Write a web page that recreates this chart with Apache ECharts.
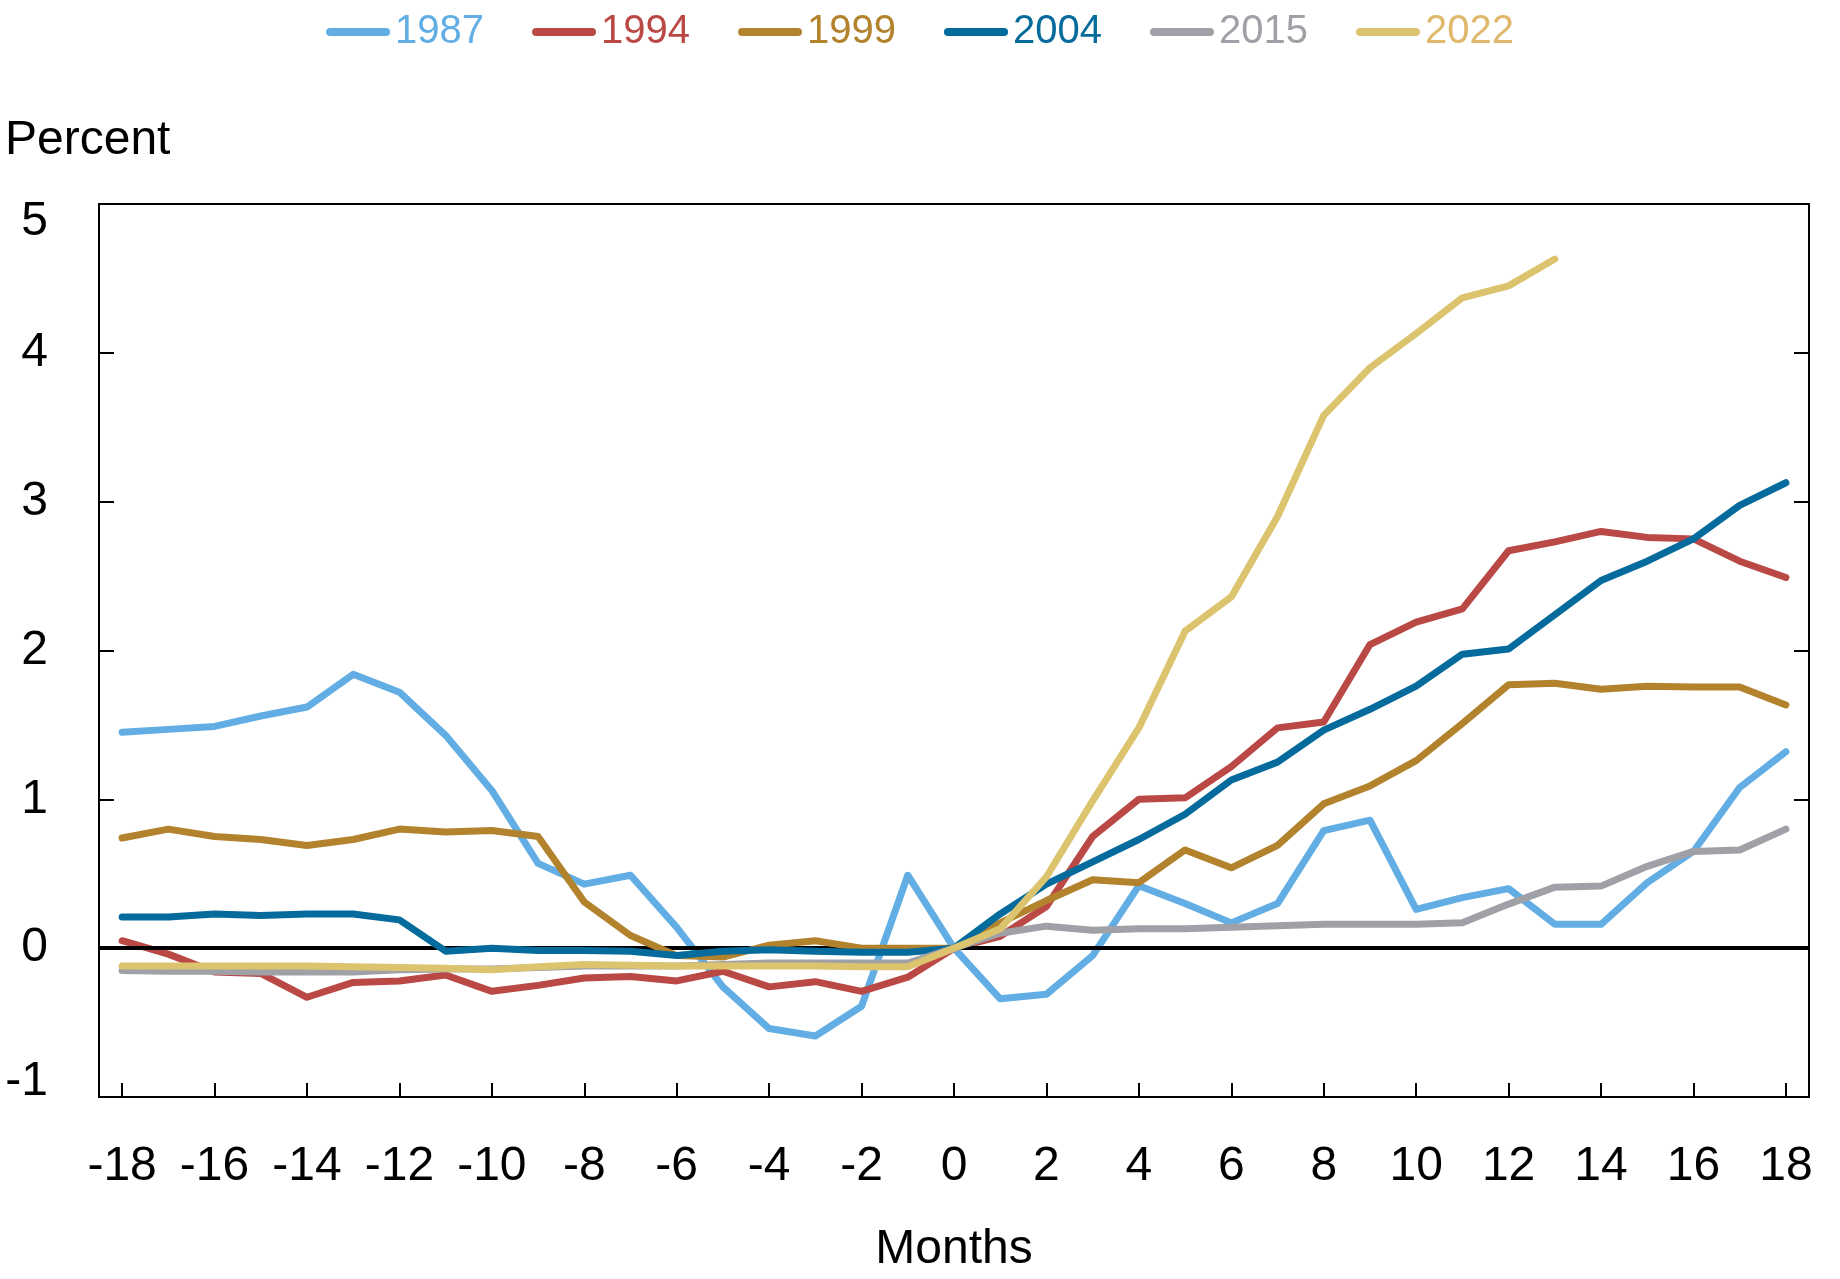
<!DOCTYPE html>
<html>
<head>
<meta charset="utf-8">
<script src="https://cdn.jsdelivr.net/npm/echarts@6/dist/echarts.min.js"></script>
<style>html,body{margin:0;padding:0;background:#fff;}#chart{width:1840px;height:1279px;}</style>
</head>
<body>
<div id="chart"></div>
<script>
const months = [-18,-17,-16,-15,-14,-13,-12,-11,-10,-9,-8,-7,-6,-5,-4,-3,-2,-1,0,1,2,3,4,5,6,7,8,9,10,11,12,13,14,15,16,17,18];
const yTicks = [-1,0,1,2,3,4,5];
const seriesNames = ['1987','1994','1999','2004','2015','2022'];
const seriesColors = ['#62AEE4','#BA4946','#B3822D','#056B9C','#A0A1A7','#DCC46F'];
const legendColors = ['#62AEE4','#BA4946','#B3822D','#056B9C','#A0A1A7','#DFB86C'];

const s1987 = [1.45,1.47,1.49,1.56,1.62,1.84,1.72,1.43,1.06,0.57,0.43,0.49,0.14,-0.26,-0.54,-0.59,-0.39,0.49,0,-0.34,-0.31,-0.05,0.42,0.30,0.17,0.30,0.79,0.86,0.26,0.34,0.40,0.16,0.16,0.44,0.65,1.08,1.32];
const s1994 = [0.05,-0.04,-0.16,-0.17,-0.33,-0.23,-0.22,-0.18,-0.29,-0.25,-0.20,-0.19,-0.22,-0.155,-0.26,-0.225,-0.29,-0.195,0,0.08,0.28,0.75,1.00,1.01,1.22,1.48,1.52,2.04,2.19,2.28,2.67,2.73,2.80,2.76,2.75,2.60,2.49];
const s1999 = [0.74,0.80,0.75,0.73,0.69,0.73,0.80,0.78,0.79,0.75,0.31,0.085,-0.05,-0.06,0.02,0.05,0,0,0,0.17,0.32,0.46,0.44,0.66,0.54,0.69,0.97,1.09,1.26,1.51,1.77,1.78,1.74,1.76,1.755,1.755,1.634];
const s2004 = [0.21,0.21,0.23,0.22,0.23,0.23,0.19,-0.02,0,-0.015,-0.015,-0.02,-0.05,-0.02,-0.01,-0.02,-0.027,-0.027,0,0.23,0.43,0.58,0.73,0.90,1.13,1.25,1.465,1.605,1.76,1.975,2.01,2.24,2.47,2.60,2.75,2.975,3.127];
const s2015 = [-0.15,-0.155,-0.155,-0.16,-0.16,-0.16,-0.145,-0.14,-0.14,-0.13,-0.12,-0.12,-0.12,-0.11,-0.10,-0.10,-0.10,-0.10,0,0.10,0.148,0.12,0.13,0.13,0.14,0.15,0.16,0.16,0.16,0.17,0.296,0.41,0.417,0.55,0.65,0.66,0.80];
const s2022 = [-0.12,-0.12,-0.12,-0.12,-0.12,-0.125,-0.13,-0.135,-0.145,-0.125,-0.11,-0.115,-0.12,-0.12,-0.12,-0.12,-0.125,-0.125,0,0.13,0.48,0.99,1.48,2.13,2.36,2.90,3.58,3.90,4.13,4.37,4.45,4.63,null,null,null,null,null];
const allSeries = [s1987,s1994,s1999,s2004,s2015,s2022];

const FONT = 'Liberation Sans';
const FS = 48;
const chart = echarts.init(document.getElementById('chart'));

const lineSeries = seriesNames.map((n,i)=>({
  name:n, type:'line', data:allSeries[i], showSymbol:false, symbol:'none',
  lineStyle:{color:seriesColors[i], width:7, join:'round', cap:'round'},
  itemStyle:{color:seriesColors[i]},
  connectNulls:false, z:3+i
}));

const yLabelRich = {
  top:{fontSize:FS, fontFamily:FONT, color:'#000', padding:[36,0,0,0]},
  bot:{fontSize:FS, fontFamily:FONT, color:'#000', padding:[0,0,31,0]},
  n:{fontSize:FS, fontFamily:FONT, color:'#000'}
};

chart.setOption({
  animation:false,
  backgroundColor:'#fff',
  textStyle:{fontFamily:FONT},
  legend:{
    left:'center', top:7, itemWidth:64, itemHeight:8, itemGap:48,
    icon:'path://M4,0 L60,0 A4,4 0 0 1 60,8 L4,8 A4,4 0 0 1 4,0 Z',
    textStyle:{fontSize:40, fontFamily:FONT},
    data:seriesNames.map((n,i)=>({name:n, itemStyle:{color:seriesColors[i]}, textStyle:{color:legendColors[i]}}))
  },
  graphic:[{type:'text', left:5, top:117, style:{text:'Percent', font:FS+'px "Liberation Sans"', fill:'#000'}}],
  grid:{left:99, right:31, top:204, bottom:178, show:true, borderColor:'#000', borderWidth:2, backgroundColor:'transparent'},
  xAxis:{
    type:'category', data:months.map(String), boundaryGap:true,
    name:'Months', nameLocation:'middle', nameGap:129,
    nameTextStyle:{fontSize:FS, fontFamily:FONT, color:'#000'},
    axisLine:{show:false, onZero:false},
    axisTick:{show:true, inside:true, length:14, alignWithLabel:true, interval:(i)=>i%2===0, lineStyle:{color:'#000', width:2}},
    axisLabel:{interval:(i)=>i%2===0, fontSize:FS, fontFamily:FONT, color:'#000', margin:46},
    splitLine:{show:false}
  },
  yAxis:[{
    type:'value', min:-1, max:5, interval:1, position:'left',
    axisLine:{show:false},
    axisTick:{show:true, inside:true, length:15, lineStyle:{color:'#000', width:2}},
    axisLabel:{fontSize:FS, fontFamily:FONT, color:'#000', margin:51,
      formatter:(v)=> v===5 ? '{top|5}' : (v===-1 ? '{bot|-1}' : '{n|'+v+'}'), rich:yLabelRich},
    splitLine:{show:false}
  },{
    type:'value', min:-1, max:5, interval:1, position:'right',
    axisLine:{show:false},
    axisTick:{show:true, inside:true, length:15, lineStyle:{color:'#000', width:2}},
    axisLabel:{show:false}, splitLine:{show:false}
  }],
  series:[{
    type:'line', data:[], silent:true, z:2,
    markLine:{silent:true, symbol:['none','none'], label:{show:false},
      lineStyle:{color:'#000', width:4, type:'solid'}, data:[{yAxis:0}]}
  }].concat(lineSeries)
});
</script>
</body>
</html>
